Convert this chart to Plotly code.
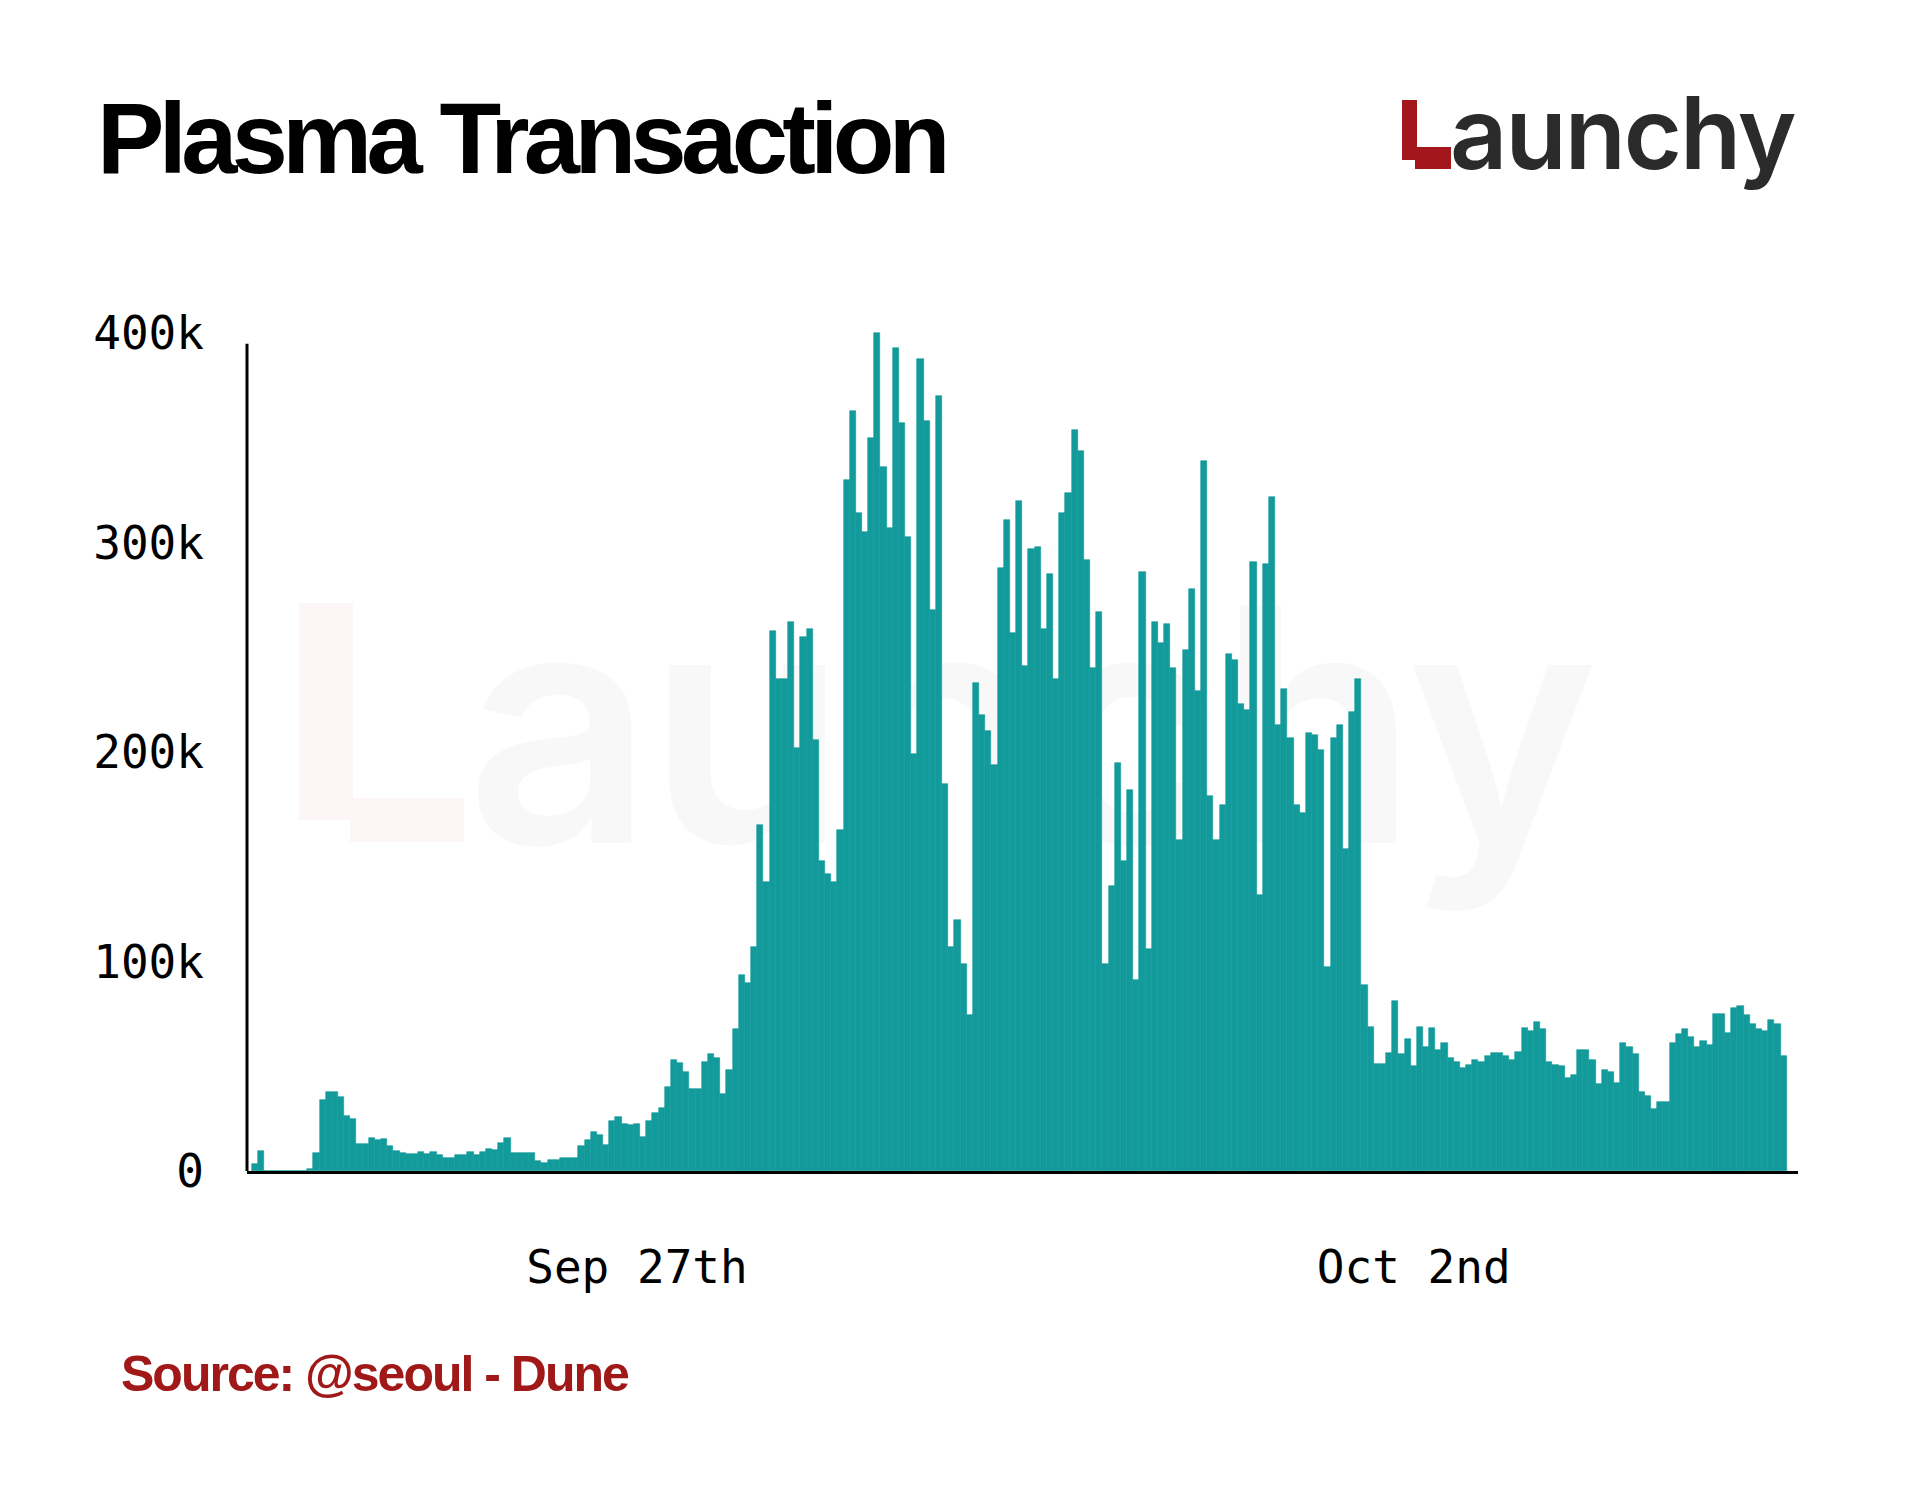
import base64

import plotly.graph_objects as go

# Hourly Plasma transactions, thousands
TXNS_K = [
    3.2, 9.5, 0, 0, 0, 0, 0, 0, 0, 1.0,
    8.8, 33.9, 37.6, 37.6, 35.5, 26.3, 24.7, 12.9, 12.9, 16.0,
    14.8, 15.4, 12.0, 9.7, 8.4, 8.1, 8.1, 9.2, 8.1, 9.2,
    7.6, 6.4, 6.4, 7.6, 7.6, 9.1, 7.6, 9.2, 10.5, 10.0,
    13.5, 15.6, 8.8, 8.8, 8.8, 8.8, 4.8, 4.0, 5.3, 5.3,
    6.4, 6.4, 6.4, 12.0, 14.8, 18.5, 17.2, 12.4, 23.9, 25.6,
    22.3, 22.0, 22.4, 16.4, 24.0, 27.5, 30.0, 40.0, 53.0, 51.4,
    47.4, 39.0, 39.0, 52.0, 56.0, 53.8, 36.8, 48.0, 68.0, 93.6,
    90.0, 107, 165, 138, 258, 235, 235, 262, 202, 255,
    259, 206, 148, 142, 138, 163, 330, 363, 314, 305,
    350, 400, 336, 307, 393, 357, 303, 199, 388, 358,
    268, 370, 185, 107, 120, 99, 74.5, 233, 218, 210,
    194, 288, 311, 257, 320, 241, 297, 298, 259, 285,
    235, 314, 324, 354, 344, 292, 240, 267, 99, 136,
    195, 148, 182, 91, 286, 106, 262, 252, 261, 240,
    158, 249, 278, 229, 339, 179, 158, 175, 247, 244,
    223, 220, 291, 132, 290, 322, 213, 230, 207, 175,
    171, 209, 208, 201, 97.6, 207, 213, 154, 219, 235,
    89, 69, 51, 51, 56.5, 81, 56, 63, 50, 69,
    59, 68.5, 58, 61, 54, 52, 49, 50.6, 53, 52,
    55, 56.5, 56.5, 55, 53, 57, 68.5, 66.7, 71, 68,
    52, 50.6, 50, 44.5, 46, 58, 58, 53, 41.6, 48.4,
    47.5, 42, 61, 59, 56, 37.7, 36, 29.6, 33, 33,
    61, 65.5, 68, 64, 59, 62, 60, 75, 75, 66,
    78, 79, 74.5, 70, 68, 67, 72, 70, 55,
]
HOURS = list(range(len(TXNS_K)))

Y_TICKS = [0, 100, 200, 300, 400]
Y_TICK_TEXT = ["0", "100k", "200k", "300k", "400k"]
X_TICKS = [62, 188]
X_TICK_TEXT = ["Sep 27th", "Oct 2nd"]

TITLE = "Plasma Transaction"
SOURCE = "Source: @seoul - Dune"
BRAND = "aunchy"  # the "L" is drawn as the brand mark

TEAL = "#139b9b"
BRAND_RED = "#a3161b"
LOGO_GREY = "#2b2b2b"
SOURCE_RED = "#a01818"

# page geometry in screen px; the html body adds an 8px margin
OFF = 8
W, H = 1920 - OFF, 1504 - OFF
PLOT_L, PLOT_R = 247, 1798
PLOT_T, PLOT_B = 325, 1171
Y_MAX = 404

ML, MR = PLOT_L - OFF, W - (PLOT_R - OFF)
MT, MB = PLOT_T - OFF, H - (PLOT_B - OFF)
PW, PH = PLOT_R - PLOT_L, PLOT_B - PLOT_T


def px_x(x):
    """screen x -> paper x"""
    return (x - PLOT_L) / PW


def px_y(y):
    """screen y -> paper y"""
    return (PLOT_B - y) / PH


def mark_path(pts):
    return "M " + " L ".join(f"{px_x(x):.5f},{px_y(y):.5f}" for x, y in pts) + " Z"


# faint "Launchy" watermark, drawn under the plot
wm_svg = f"""<svg xmlns="http://www.w3.org/2000/svg" width="{W}" height="{H}" viewBox="0 0 {W} {H}">
<path d="M {299-OFF} {603-OFF} H {353-OFF} V {798-OFF} H {464-OFF} V {842-OFF} H {350-OFF} V {820-OFF} H {299-OFF} Z" fill="#fdf6f6"/>
<text x="{466-OFF}" y="{843-OFF}" font-family="Inter" font-weight="600" font-size="326" fill="#f8f8f8" letter-spacing="-6">aunchy</text>
</svg>"""
wm_uri = "data:image/svg+xml;base64," + base64.b64encode(wm_svg.encode()).decode()

fig = go.Figure()

fig.add_trace(
    go.Bar(
        x=HOURS,
        y=TXNS_K,
        marker=dict(color=TEAL, line=dict(color=TEAL, width=0.6)),
        hoverinfo="skip",
    )
)

fig.add_layout_image(
    source=wm_uri,
    xref="paper", yref="paper",
    x=px_x(OFF), y=px_y(OFF),
    sizex=W / PW, sizey=H / PH,
    xanchor="left", yanchor="top",
    sizing="stretch", layer="below",
)

# y axis line (stops a little below the top tick)
fig.add_shape(
    type="line", xref="paper", yref="y", x0=0, x1=0, y0=0, y1=395,
    line=dict(color="black", width=3),
)

# red "L" brand mark
fig.add_shape(
    type="path", xref="paper", yref="paper",
    path=mark_path([(1402, 100), (1417, 100), (1417, 147), (1451, 147),
                    (1451, 169), (1415, 169), (1415, 160), (1402, 160)]),
    fillcolor=BRAND_RED, line=dict(width=0),
)

fig.add_annotation(
    x=px_x(95), y=px_y(138), xref="paper", yref="paper",
    text=f"<span style='letter-spacing:-5.6px'>{TITLE}</span>",
    showarrow=False, xanchor="left", yanchor="middle",
    font=dict(family="Liberation Sans", size=101, color="black", weight=700),
)

fig.add_annotation(
    x=px_x(1797), y=px_y(132), xref="paper", yref="paper",
    text=f"<span style='letter-spacing:-2px'>{BRAND}</span>",
    showarrow=False, xanchor="right", yanchor="middle",
    font=dict(family="Inter", size=100, color=LOGO_GREY, weight=600),
)

fig.add_annotation(
    x=px_x(119), y=px_y(1374), xref="paper", yref="paper",
    text=f"<span style='letter-spacing:-2px'>{SOURCE}</span>",
    showarrow=False, xanchor="left", yanchor="middle",
    font=dict(family="Liberation Sans", size=50, color=SOURCE_RED, weight=700),
)

fig.update_layout(
    width=W,
    height=H,
    margin=dict(l=ML, r=MR, t=MT, b=MB, pad=0),
    paper_bgcolor="white",
    plot_bgcolor="rgba(0,0,0,0)",
    showlegend=False,
    bargap=0,
    xaxis=dict(
        range=[-1.26, 250.33],
        showgrid=False,
        zeroline=False,
        showline=True,
        linecolor="black",
        linewidth=3,
        ticks="",
        tickmode="array",
        tickvals=X_TICKS,
        ticktext=X_TICK_TEXT,
        ticklabelstandoff=54,
        tickfont=dict(family="DejaVu Sans Mono", size=46, color="black"),
    ),
    yaxis=dict(
        range=[0, Y_MAX],
        showgrid=False,
        zeroline=False,
        showline=False,
        ticks="",
        tickmode="array",
        tickvals=Y_TICKS,
        ticktext=Y_TICK_TEXT,
        ticklabelstandoff=42,
        tickfont=dict(family="DejaVu Sans Mono", size=46, color="black"),
    ),
)

fig.write_html("out.html")
